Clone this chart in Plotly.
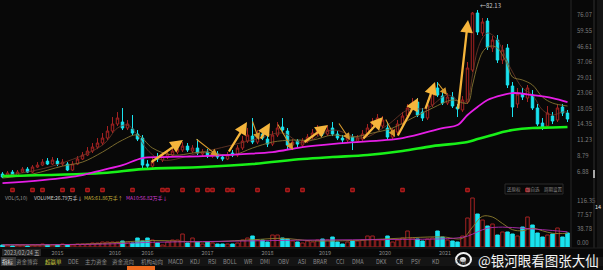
import numpy as np
import plotly.graph_objects as go

# ---------------- data ----------------
open_ = [6.68,6.38,6.88,6.47,6.88,7.20,6.88,7.43,7.66,8.14,7.78,8.14,7.78,7.78,7.10,7.78,8.40,8.93,9.49,10.09,
         10.73,11.58,12.89,14.35,14.80,13.50,13.29,12.31,11.58,7.78,7.54,8.66,8.27,8.66,8.93,9.35,9.64,10.24,9.49,9.94,
         9.07,9.35,8.79,9.07,8.66,8.40,9.21,8.93,9.94,11.06,11.94,10.89,12.31,11.40,10.56,12.13,13.71,12.89,10.40,11.06,
         10.40,11.06,11.76,12.31,13.09,12.31,13.50,12.31,11.58,11.23,11.76,11.06,11.40,12.31,13.50,14.57,13.92,13.50,11.76,12.69,
         14.35,16.22,18.33,20.09,17.24,15.73,19.19,24.90,22.02,19.79,21.68,18.61,17.78,20.09,32.79,78.43,57.76,69.40,45.91,51.89,
         38.21,45.91,25.67,19.49,22.70,21.36,22.36,18.33,14.57,13.92,16.22,15.26,18.61,16.98]
high_ = [6.88,6.99,7.10,7.10,7.43,7.43,7.66,8.02,8.40,8.53,8.66,8.53,8.40,8.02,8.14,8.79,9.35,10.09,10.73,11.58,
         12.50,13.92,15.97,17.24,18.33,15.26,16.47,13.09,12.13,8.27,8.53,9.21,9.21,9.49,9.94,10.40,10.89,10.73,10.40,11.40,
         9.78,9.78,9.49,9.49,8.93,9.35,9.64,10.40,11.94,13.50,15.73,13.09,13.50,12.13,12.89,14.80,15.73,13.50,11.40,11.40,
         11.58,12.31,13.29,14.14,13.71,13.92,14.80,12.89,12.13,12.31,12.31,12.13,13.09,14.35,15.73,16.72,16.22,14.80,13.50,15.26,
         17.24,19.49,21.36,21.36,18.33,20.72,25.67,27.29,23.41,23.06,23.41,19.49,22.02,37.06,79.64,82.13,72.65,72.65,55.16,56.01,
         48.07,48.80,27.29,24.90,24.90,26.07,24.14,19.49,15.73,18.90,17.24,19.49,19.49,17.78]
low_ = [6.28,6.28,6.38,6.38,6.78,6.78,6.78,7.32,7.54,7.66,7.66,7.54,7.54,6.99,6.99,7.66,8.27,8.79,9.21,9.78,
        10.40,11.23,12.50,13.92,13.09,13.09,12.13,11.06,7.32,7.32,7.32,8.02,8.02,8.40,8.66,9.07,9.35,9.35,9.21,8.93,
        8.79,8.53,8.53,8.40,8.14,8.27,8.66,8.66,9.64,10.73,10.56,10.56,11.23,10.09,10.24,11.76,12.69,9.78,9.64,10.09,
        10.09,10.73,11.40,11.94,11.94,11.94,11.94,11.23,10.73,10.89,9.64,10.73,11.06,11.94,13.09,14.14,13.50,11.40,11.40,12.31,
        13.92,15.73,17.78,15.97,15.03,15.26,18.61,21.68,19.19,19.19,18.33,15.97,17.24,19.49,31.80,56.01,55.16,44.53,43.19,36.49,
        35.94,24.90,15.97,18.33,20.72,20.09,17.78,13.92,13.09,13.50,14.35,14.80,16.22,14.80]
close_ = [6.38,6.78,6.47,6.88,7.20,6.88,7.43,7.66,8.02,7.78,8.27,7.78,8.02,7.10,7.78,8.40,8.93,9.49,10.09,10.73,
          11.58,12.89,14.35,15.73,13.50,14.35,12.50,11.40,7.66,7.54,8.02,8.40,8.79,9.07,9.49,9.78,10.24,9.64,9.94,9.21,
          9.35,8.79,9.07,8.66,8.40,8.93,8.93,9.94,11.06,12.13,10.89,11.94,11.58,10.56,12.13,13.50,13.09,10.40,10.89,10.56,
          11.06,11.76,12.50,13.09,12.31,13.09,12.31,11.58,11.23,11.76,11.06,11.58,12.31,13.50,14.80,15.73,15.26,11.76,12.69,14.35,
          16.22,18.33,19.79,16.47,15.73,19.19,23.41,22.36,19.79,21.68,18.90,18.05,20.72,33.80,78.43,58.64,68.34,46.61,51.89,38.21,
          44.53,26.07,18.61,22.70,21.68,24.90,18.33,14.35,13.71,16.98,15.03,18.33,16.98,15.49]
volume = [5.5,5.5,2.8,5.5,5.5,2.8,5.5,5.5,8.3,5.5,5.5,5.5,8.3,5.5,5.5,8.3,8.3,8.3,11.1,11.1,13.9,13.9,
          13.9,13.9,16.6,13.9,11.1,24.9,16.6,24.9,
          19.4,11.1,5.5,13.9,19.4,19.4,36.0,11.1,24.9,13.9,
          8.3,13.9,11.1,8.3,8.3,8.3,8.3,11.1,19.4,24.9,
          30.5,19.4,19.4,13.9,33.2,33.2,24.9,22.2,16.6,13.9,
          11.1,16.6,13.9,19.4,22.2,19.4,27.7,13.9,8.3,13.9,
          16.6,16.6,19.4,30.5,30.5,19.4,19.4,30.5,13.9,19.4,
          24.9,44.3,24.9,22.2,16.6,22.2,24.9,44.3,27.7,19.4,
          16.6,13.9,30.5,80.3,135.7,91.4,74.8,58.2,63.7,33.2,
          41.6,41.6,36.0,30.5,55.4,83.1,60.9,38.8,27.7,33.2,
          36.0,52.6,27.7,38.8]

# moving-average lines (candle index, value)
ma_green_idx = [0,20,28,40,50,60,66,73,80,86,93,95,98,100,102,106,110,113]
ma_green_val = [6.47,6.78,7.20,7.43,7.78,8.40,8.66,8.93,9.49,10.24,10.89,11.40,12.13,12.69,13.09,13.50,13.60,13.71]
ma_mag_idx = [0,8,16,20,24,28,32,40,48,54,60,68,80,88,91,93,95,97,100,102,106,110,113]
ma_mag_val = [5.82,6.09,6.58,7.10,7.66,8.53,8.66,8.79,9.07,9.35,10.09,10.73,11.58,13.50,14.14,16.47,18.61,20.72,22.36,23.06,22.36,21.36,20.09]
ma_olive_idx = [0,6,12,16,20,24,27,30,34,40,46,50,54,58,62,66,70,74,78,82,86,90,93,94,95,96,97,98,99,100,101,102,104,106,108,110,113]
ma_olive_val = [6.28,6.68,7.54,8.02,9.35,11.23,12.13,9.94,8.93,9.35,8.93,9.94,10.89,11.23,11.23,12.13,11.76,12.50,13.50,15.73,18.33,20.72,19.79,26.07,35.39,43.19,46.61,47.33,45.91,41.25,35.39,29.46,28.14,26.07,21.68,19.79,18.90]
ma_brown_idx = [0,10,20,23,25,27,29,32,40,50,56,60,66,72,77,81,85,89,92,93,94,95,96,97,98,99,100,101,102,104,106,108,110,112,113]
ma_brown_val = [6.47,7.54,10.40,13.50,14.14,12.13,9.64,8.27,9.35,11.23,12.50,10.73,13.09,11.58,14.14,17.78,18.33,22.36,19.79,20.72,30.37,44.53,53.50,57.76,56.01,51.89,44.53,37.06,31.80,24.90,22.36,17.78,16.47,17.24,17.24]

vol_ma5_idx = [0,10,20,30,40,50,56,62,70,76,82,88,92,94,96,98,100,102,104,106,108,110,113]
vol_ma5_val = [6,6,10,18,14,20,24,17,18,22,26,28,24,55,85,83,65,48,45,52,45,38,38]
vol_ma10_idx = [0,20,30,40,50,60,70,80,90,93,95,97,100,104,108,113]
vol_ma10_val = [6,8,13,15,17,19,20,21,24,30,42,52,55,52,48,42]

# zig-zag strokes (start index, start price, end index, end price)
up_i0 = [29.5,45.1,51.5,60.1,71.9,78.9,84.5,91.1]
up_p0 = [7.90,9.21,11.23,10.73,11.23,11.76,17.78,17.78]
up_i1 = [36.1,48.9,53.5,65.1,76.1,83.1,86.5,93.1]
up_p1 = [11.23,14.80,14.57,14.14,15.97,21.36,27.29,70.47]
dn_i0 = [38.5,49.9,54.9,67.1,76.5,86.9]
dn_p0 = [11.58,15.26,14.57,14.80,15.73,27.29]
dn_i1 = [43.1,51.3,58.1,69.5,78.5,88.9]
dn_p1 = [8.79,11.23,9.64,11.23,11.76,22.36]

signal_idx = [2,6,8,12,14,17,20,26,32,33,36,39,41,42,45,46,51,57,60,70,80,93,105]
peak_idx, peak_val = 95, 82.13

price_ticks = [76.07,59.55,46.61,37.06,29.01,23.06,18.05,14.35,11.23,8.79,6.88]
vol_ticks = [0,38.78,77.57,116.35]
year_pos = [11,22.5,29,41,53,64.5,76.5,88.5]
year_txt = ["2015","2016","2016","2017","2018","2019","2020","2021"]
tabs = ["指标","资金博弈","超赢单","DDE","主力资金","资金流向","机构动向","MACD","KDJ","RSI","BOLL","WR",
        "DMI","OBV","ASI","BRAR","CCI","DMA","DKX","CR","PSY","KD","CYW"]
tab_x = [8,28,53,73,96,123,152,175,195,212,230,248,265,284,302,320,340,358,381,400,416,436,460]

# ---------------- figure ----------------
W, H = 603, 270
def px(x): return x / W
def py(y): return 1 - y / H

BG = '#080808'
UP = '#a52222'
DN = '#19e3ef'
FONT = 'Noto Sans CJK SC, Noto Sans, sans-serif'
idx = list(range(len(open_)))
signal_level = 5.23

fig = go.Figure()

# moving averages (price)
fig.add_trace(go.Scatter(x=ma_brown_idx, y=ma_brown_val, mode='lines', line=dict(color='#6e3a2a', width=0.8, shape='spline'), hoverinfo='skip'))
fig.add_trace(go.Scatter(x=ma_olive_idx, y=ma_olive_val, mode='lines', line=dict(color='#857431', width=0.9, shape='spline'), hoverinfo='skip'))
fig.add_trace(go.Scatter(x=ma_green_idx, y=ma_green_val, mode='lines', line=dict(color='#18f018', width=2.6, shape='spline'), hoverinfo='skip'))
fig.add_trace(go.Scatter(x=ma_mag_idx, y=ma_mag_val, mode='lines', line=dict(color='#e61ee6', width=1.8, shape='spline'), hoverinfo='skip'))

fig.add_trace(go.Candlestick(
    x=idx, open=open_, high=high_, low=low_, close=close_,
    increasing=dict(line=dict(color=UP, width=1), fillcolor=BG),
    decreasing=dict(line=dict(color=DN, width=1), fillcolor=DN),
    whiskerwidth=0, hoverinfo='skip', xaxis='x', yaxis='y'))

# buy/sell signal marks
fig.add_trace(go.Scatter(x=signal_idx, y=[signal_level] * len(signal_idx), mode='markers',
                         marker=dict(symbol='square', size=3.5, color='#6a0c0c', line=dict(color='#c82020', width=1)),
                         hoverinfo='skip'))

# volume bars
is_up = [c >= o for o, c in zip(open_, close_)]
fig.add_trace(go.Bar(x=idx, y=volume, width=0.7, xaxis='x', yaxis='y2',
                     marker=dict(color=[BG if u else DN for u in is_up],
                                 line=dict(color=[UP if u else DN for u in is_up], width=1)),
                     hoverinfo='skip'))
fig.add_trace(go.Scatter(x=vol_ma5_idx, y=vol_ma5_val, mode='lines', xaxis='x', yaxis='y2',
                         line=dict(color='#8f7e2e', width=0.9, shape='spline'), hoverinfo='skip'))
fig.add_trace(go.Scatter(x=vol_ma10_idx, y=vol_ma10_val, mode='lines', xaxis='x', yaxis='y2',
                         line=dict(color='#b02cb0', width=0.9, shape='spline'), hoverinfo='skip'))

ann = []
# zig-zag strokes
for a0, b0, a1, b1 in zip(up_i0, up_p0, up_i1, up_p1):
    ann.append(dict(x=a1, y=np.log10(b1), ax=a0, ay=np.log10(b0), xref='x', yref='y', axref='x', ayref='y',
                    text='', showarrow=True, arrowhead=2, arrowsize=1.1, arrowwidth=2.3, arrowcolor='#f5b53c'))
for a0, b0, a1, b1 in zip(dn_i0, dn_p0, dn_i1, dn_p1):
    ann.append(dict(x=a1, y=np.log10(b1), ax=a0, ay=np.log10(b0), xref='x', yref='y', axref='x', ayref='y',
                    text='', showarrow=True, arrowhead=2, arrowsize=1.3, arrowwidth=1.1, arrowcolor='#d79a2e'))

ann.append(dict(x=peak_idx, y=np.log10(peak_val), xref='x', yref='y', text='←' + f'{peak_val:.2f}',
                showarrow=False, xanchor='left', yanchor='bottom', xshift=0, yshift=-2,
                font=dict(size=6, color='#c8c8c8', family=FONT)))

def txt(x, y, s, color='#8a8a8a', size=5.5, xanchor='left'):
    ann.append(dict(x=px(x), y=py(y), xref='paper', yref='paper', text=s, showarrow=False,
                    xanchor=xanchor, yanchor='middle', font=dict(size=size, color=color, family=FONT)))

txt(3, 197.5, 'VOL(5,10)', '#9a9a9a', 5)
txt(32, 197.5, 'VOLUME:26.79万手↓', '#d0d0d0', 5)
txt(82, 197.5, 'MA5:61.86万手↑', '#c8b43c', 5)
txt(124, 197.5, 'MA10:56.82万手↓', '#d23cd2', 5)
txt(514, 189, '还原权', '#8a8a8a', 4.5, 'center')
txt(533, 189, '加自选', '#8a8a8a', 4.5, 'center')
txt(553, 189, '周期设置', '#8a8a8a', 4.5, 'center')
txt(603, 207, '14', '#e0e0e0', 5.5, 'right')
txt(21.5, 252.5, '2023/02/24 五', '#b0b0b0', 5.5, 'center')
for tx, tt in zip(tab_x, tabs):
    col = '#e8e8e8' if tt == '指标' else ('#c8c83c' if tt == '超赢单' else '#8a8a8a')
    txt(tx, 261.5, tt, col, 5.5, 'center')
# watermark
ann.append(dict(x=px(476), y=py(259.5), xref='paper', yref='paper', text='@银河眼看图张大仙', showarrow=False,
                xanchor='left', yanchor='middle', font=dict(size=13.5, color='#f4f4f4', family=FONT)))

shapes = [
    dict(type='line', xref='paper', yref='paper', x0=px(571), x1=px(571), y0=py(0), y1=py(248), line=dict(color='#262626', width=1)),
    dict(type='line', xref='paper', yref='paper', x0=px(594), x1=px(594), y0=py(0), y1=py(248), line=dict(color='#2e2e2e', width=1)),
    dict(type='rect', xref='paper', yref='paper', x0=px(597), x1=1, y0=py(0), y1=py(248), fillcolor='#141414', line_width=0),
    dict(type='line', xref='paper', yref='paper', x0=px(594), x1=px(594), y0=py(170), y1=py(178), line=dict(color='#d8d8d8', width=1.5)),
    dict(type='line', xref='paper', yref='paper', x0=0, x1=1, y0=py(248), y1=py(248), line=dict(color='#1e1e1e', width=1)),
    dict(type='rect', xref='paper', yref='paper', x0=px(2), x1=px(41), y0=py(256), y1=py(249), fillcolor='#262626', line_width=0),
    dict(type='rect', xref='paper', yref='paper', x0=0, x1=1, y0=py(266), y1=py(257), fillcolor='#141414', line_width=0),
    dict(type='rect', xref='paper', yref='paper', x0=px(1), x1=px(16), y0=py(266), y1=py(257), fillcolor='#3a3a3a', line_width=0),
    dict(type='rect', xref='paper', yref='paper', x0=0, x1=1, y0=0, y1=py(266), fillcolor='#0b0b0b', line_width=0),
    dict(type='rect', xref='paper', yref='paper', x0=px(127), x1=px(155), y0=0, y1=py(266), fillcolor='#ee6a1e', line_width=0),
    dict(type='rect', xref='paper', yref='paper', x0=px(505), x1=px(563), y0=py(194), y1=py(184), line=dict(color='#2a2a2a', width=1)),
    dict(type='circle', xref='paper', yref='paper', x0=px(456), x1=px(471), y0=py(266), y1=py(253), line=dict(color='#f0f0f0', width=2)),
    dict(type='circle', xref='paper', yref='paper', x0=px(460), x1=px(466), y0=py(262), y1=py(257), fillcolor='#f0f0f0', line_width=0),
]

tick_font = dict(size=6, color='#7c7c7c', family=FONT)
fig.update_layout(
    width=W, height=H, margin=dict(l=0, r=0, t=0, b=0),
    paper_bgcolor=BG, plot_bgcolor=BG, showlegend=False,
    font=dict(family=FONT),
    xaxis=dict(domain=[0, px(570)], range=[-0.5, 113.5], anchor='y2', showgrid=False, zeroline=False,
               showline=False, ticks='', tickmode='array', tickvals=year_pos, ticktext=year_txt,
               tickfont=dict(size=5.5, color='#8a8a8a', family=FONT), rangeslider=dict(visible=False),
               automargin=False, ticklabelstandoff=1),
    yaxis=dict(type='log', domain=[py(197), 1], range=[np.log10(4.70), np.log10(95.70)], side='right',
               anchor='x', showgrid=False, zeroline=False, showline=False, ticks='', tickmode='array',
               tickvals=price_ticks, ticktext=[f'{v:.2f}' for v in price_ticks], tickfont=tick_font,
               automargin=False, ticklabelstandoff=6),
    yaxis2=dict(domain=[py(247), py(197)], range=[0, 138.5], side='right', anchor='x', showgrid=False,
                zeroline=False, showline=False, ticks='', tickmode='array', tickvals=vol_ticks,
                ticktext=[f'{v:.2f}' for v in vol_ticks], tickfont=tick_font, automargin=False,
                ticklabelstandoff=6, ticklabelposition='outside top'),
    bargap=0.3,
    annotations=ann, shapes=shapes,
)

fig.write_html('out.html')
